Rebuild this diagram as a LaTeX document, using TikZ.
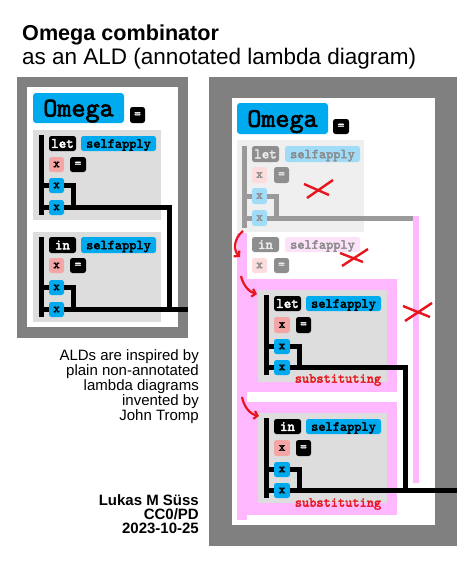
\documentclass[tikz,border=0pt]{standalone}
\usepackage{fontspec}
\setmainfont{Liberation Sans}
\newfontfamily\monof{lmmono10-regular.otf}[FakeBold=2.5]
\usetikzlibrary{arrows.meta}
\definecolor{outergray}{HTML}{808080}
\definecolor{blockgray}{HTML}{DDDDDD}
\definecolor{ablue}{HTML}{00AAEE}
\definecolor{xpink}{HTML}{F4A6A6}
\definecolor{pinkc}{HTML}{FFB8FF}
\definecolor{fadebg}{HTML}{EFEFEF}
\definecolor{fadetok}{HTML}{8E8E8E}
\definecolor{fadeline}{HTML}{9A9A9A}
\definecolor{fadeblue}{HTML}{A0DCF8}
\definecolor{fadetext}{HTML}{8A8A8A}
\definecolor{fadepink}{HTML}{FCDCDC}
\definecolor{fadelav}{HTML}{FBE2F8}
\definecolor{redc}{HTML}{E8141E}
\newcommand\tokbox[7]{\node[#2,minimum width={(#5)-(#3)},minimum height={(#6)-(#4)}] (#1) at ({((#3)+(#5))/2},{((#4)+(#6))/2}) {#7};}
\tikzset{
  tok/.style={rounded corners=2.5pt, inner sep=0pt, outer sep=0pt, text depth=0pt,
    font={\monof\fontsize{13.7}{16}\selectfont}},
  omega/.style={tok, fill=ablue, text=black, rounded corners=3pt, font={\monof\fontsize{26.8}{30}\selectfont}},
  kw/.style={tok, fill=black, text=white, font={\monof\fontsize{14.3}{16}\selectfont}},
  nm/.style={tok, fill=ablue, text=black},
  var/.style={tok, fill=xpink, text=black, font={\monof\fontsize{12.6}{14}\selectfont}},
  eq/.style={tok, fill=black, text=white, font={\monof\fontsize{12.6}{14}\selectfont}},
  bv/.style={tok, fill=ablue, text=black, font={\monof\fontsize{12.6}{14}\selectfont}},
  fkw/.style={kw, fill=fadetok, text=white!92!black},
  fnm/.style={nm, fill=fadeblue, text=fadetext},
  fnmp/.style={nm, fill=fadelav, text=fadetext},
  fvar/.style={var, fill=fadepink, text=fadetext},
  feq/.style={eq, fill=fadetok, text=white!92!black},
  fbv/.style={bv, fill=fadeblue, text=fadetext},
  wire/.style={line width=5pt, draw=black},
  fwire/.style={line width=5pt, draw=fadeline},
  pwire/.style={line width=5.5pt, draw=pinkc},
  subst/.style={font={\monof\fontsize{13.7}{16}\selectfont}, text=redc, inner sep=0pt},
  crossmark/.style={draw=redc, line width=2.4pt},
  redarrow/.style={draw=redc, line width=2.2pt, -{Straight Barb[length=3.5pt,width=8pt]}},
  sans/.style={inner sep=0pt, font={\fontsize{15}{15}\selectfont}},
  sansb/.style={inner sep=0pt, font={\bfseries\fontsize{15}{15}\selectfont}}
}
\begin{document}
\begin{tikzpicture}[x=1pt,y=-1pt]
\useasboundingbox[fill=white] (0,0) rectangle (474,578);

% ---------- title ----------
\node[anchor=base west, inner sep=0pt, font={\bfseries\fontsize{21.6}{24}\selectfont}] (title1) at (22,40.5) {Omega combinator};
\node[anchor=base west, inner sep=0pt, font={\fontsize{22.5}{25}\selectfont}] (title2) at (22,64.5) {as an ALD (annotated lambda diagram)};

% ---------- left panel ----------
\fill[outergray] (17,77) rectangle (188,338);
\fill[white] (27,87) rectangle (178,327);
\tokbox{LOm}{omega}{33}{93}{124}{123}{Omega}
\tokbox{LOeq}{eq}{130}{107}{145}{123}{=}

\fill[blockgray] (33,130) rectangle (161,220);
\fill[blockgray] (33,232) rectangle (161,322);

\coordinate (Llamt) at (41,135);
\coordinate (Llamb) at (41,215);
\coordinate (Lilamt) at (41,237);
\coordinate (Lilamb) at (41,317);
\coordinate (Lturn) at (169,0);
\coordinate (Lout) at (188,0);

\tokbox{Llet}{kw}{49}{136}{76}{151}{let}
\tokbox{Lsa}{nm}{81}{136}{156}{151}{selfapply}
\tokbox{Lx}{var}{49}{157}{64}{172}{x}
\tokbox{Leq}{eq}{70}{157}{86}{172}{=}
\tokbox{Lb1}{bv}{49}{178}{64}{193}{x}
\tokbox{Lb2}{bv}{49}{200}{64}{215}{x}

\tokbox{Lin}{kw}{49}{237}{76}{253}{in}
\tokbox{Lisa}{nm}{81}{237}{156}{253}{selfapply}
\tokbox{Lix}{var}{49}{258}{64}{273}{x}
\tokbox{Lieq}{eq}{70}{258}{86}{273}{=}
\tokbox{Lib1}{bv}{49}{280}{64}{295}{x}
\tokbox{Lib2}{bv}{49}{302}{64}{317}{x}

\draw[wire] (Llamt) -- (Llamb);
\draw[wire] (Llamt |- Lb1.west) -- (Lb1.west);
\draw[wire] (Llamt |- Lb2.west) -- (Lb2.west);
\draw[wire] (Lb1.east) -- ++(9,0) |- (Lb2.east);
\draw[wire] (Lb2.east) -| (Lturn |- Lib2.east);
\draw[wire] (Lilamt) -- (Lilamb);
\draw[wire] (Lilamt |- Lib1.west) -- (Lib1.west);
\draw[wire] (Lilamt |- Lib2.west) -- (Lib2.west);
\draw[wire] (Lib1.east) -- ++(9,0) |- (Lib2.east);
\draw[wire] (Lib2.east) -- (Lout |- Lib2.east);

% ---------- right panel ----------
\fill[outergray] (209,77) rectangle (457,546);
\fill[white] (232,98) rectangle (435,525);
\tokbox{ROm}{omega}{237}{103}{328}{134}{Omega}
\tokbox{ROeq}{eq}{333}{119}{349}{134}{=}

% faded let block
\fill[fadebg] (237,140) rectangle (364,232);
\coordinate (Rlamt) at (244.5,146);
\coordinate (Rlamb) at (244.5,228);
\coordinate (Rturn) at (413,0);
\coordinate (Pdown) at (416,0);
\tokbox{Rlet}{fkw}{252}{146}{279}{162}{let}
\tokbox{Rsa}{fnm}{285}{146}{360}{162}{selfapply}
\tokbox{Rx}{fvar}{252}{167}{267}{183}{x}
\tokbox{Req}{feq}{274}{167}{289}{183}{=}
\tokbox{Rb1}{fbv}{252}{188}{267}{204}{x}
\tokbox{Rb2}{fbv}{252}{210}{267}{226}{x}
\draw[fwire] (Rlamt) -- (Rlamb);
\draw[fwire] (Rlamt |- Rb1.west) -- (Rb1.west);
\draw[fwire] (Rlamt |- Rb2.west) -- (Rb2.west);
\draw[fwire] (Rb1.east) -- ++(9,0) |- (Rb2.east);
\draw[fwire] (Rb2.east) -- (Rturn |- Rb2.east);

% pink (faded) in block
\fill[pinkc] (237,233) rectangle (247,520);
\fill[pinkc] (237,279) rectangle (397,392);
\fill[pinkc] (237,402) rectangle (397,515);
\tokbox{Rin}{fkw}{252}{237}{279}{252}{in}
\tokbox{Risa}{fnmp}{285}{237}{360}{252}{selfapply}
\tokbox{Rix}{fvar}{252}{258}{267}{273}{x}
\tokbox{Rieq}{feq}{274}{258}{289}{273}{=}

% substituted let block
\fill[blockgray] (258,290) rectangle (387,382);
\coordinate (Slamt) at (266.5,295);
\coordinate (Slamb) at (266.5,375);
\coordinate (Sturn) at (405.5,0);
\tokbox{Slet}{kw}{274}{296}{301}{311}{let}
\tokbox{Ssa}{nm}{306}{296}{381}{311}{selfapply}
\tokbox{Sx}{var}{274}{317}{290}{333}{x}
\tokbox{Seq}{eq}{296}{317}{311}{333}{=}
\tokbox{Sb1}{bv}{274}{339}{290}{354}{x}
\tokbox{Sb2}{bv}{274}{360}{290}{375}{x}

% substituted in block
\fill[blockgray] (258,413) rectangle (387,503);
\coordinate (Tlamt) at (266.5,418);
\coordinate (Tlamb) at (266.5,498);
\coordinate (Tout) at (457,0);
\tokbox{Tin}{kw}{274}{419}{301}{434}{in}
\tokbox{Tsa}{nm}{306}{419}{381}{434}{selfapply}
\tokbox{Tx}{var}{274}{440}{290}{456}{x}
\tokbox{Teq}{eq}{296}{440}{311}{456}{=}
\tokbox{Tb1}{bv}{274}{462}{290}{477}{x}
\tokbox{Tb2}{bv}{274}{483}{290}{498}{x}

\draw[pwire] (Pdown |- Rb2.east) ++(0,-2.5) -- (Pdown |- Tb2.north);

\draw[wire] (Slamt) -- (Slamb);
\draw[wire] (Slamt |- Sb1.west) -- (Sb1.west);
\draw[wire] (Slamt |- Sb2.west) -- (Sb2.west);
\draw[wire] (Sb1.east) -- ++(9,0) |- (Sb2.east);
\draw[wire] (Sb2.east) -| (Sturn |- Tb2.east);

\draw[wire] (Tlamt) -- (Tlamb);
\draw[wire] (Tlamt |- Tb1.west) -- (Tb1.west);
\draw[wire] (Tlamt |- Tb2.west) -- (Tb2.west);
\draw[wire] (Tb1.east) -- ++(9,0) |- (Tb2.east);
\draw[wire] (Tb2.east) -- (Tout |- Tb2.east);

\node[subst] (sub1) at (338,380) {substituting};
\node[subst] (sub2) at (338,504) {substituting};

% red crosses
\draw[crossmark] (304,184) -- (329,195);
\draw[crossmark] (307,198) -- (333,180);
\draw[crossmark] (340,253) -- (363,262);
\draw[crossmark] (342,266) -- (368,249);
\draw[crossmark] (403,306) -- (430,317);
\draw[crossmark] (405,321) -- (432,303);

% red arrows
\coordinate (a1s) at (243,231);
\coordinate (a1e) at (240,257);
\coordinate (a2s) at (241,276);
\coordinate (a2e) at (257,294);
\coordinate (a3s) at (242,397);
\coordinate (a3e) at (259,416);
\draw[redarrow] (a1s) .. controls (234,238) and (233,250) .. (a1e);
\draw[redarrow] (a2s) .. controls (243,285) and (249,292) .. (a2e);
\draw[redarrow] (a3s) .. controls (244,407) and (250,414) .. (a3e);

% ---------- side texts ----------
\node[sans, anchor=base east] (n1) at (199,360.7) {ALDs are inspired by};
\node[sans, anchor=base east] (n2) at (199,375.7) {plain non-annotated};
\node[sans, anchor=base east] (n3) at (199,390.7) {lambda diagrams};
\node[sans, anchor=base east] (n4) at (199,405.7) {invented by};
\node[sans, anchor=base east] (n5) at (199,420.7) {John Tromp};
\node[sansb, anchor=base east] (c1) at (199,505.5) {Lukas M Süss};
\node[sansb, anchor=base east] (c2) at (199,519.5) {CC0/PD};
\node[sansb, anchor=base east] (c3) at (199,533.5) {2023-10-25};
\end{tikzpicture}
\end{document}
